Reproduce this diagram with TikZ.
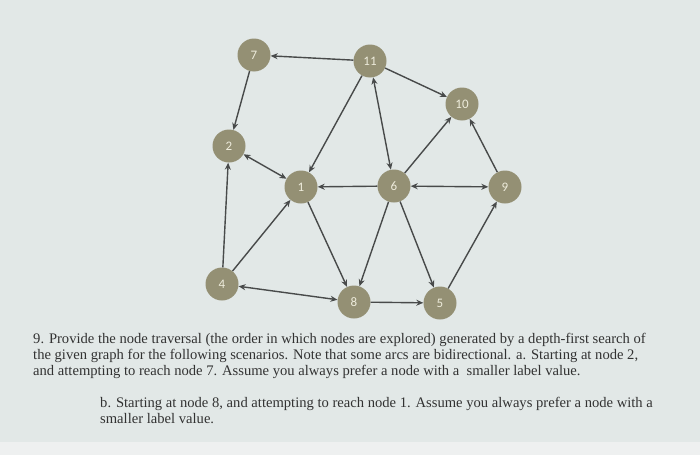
\documentclass[tikz,border=0pt]{standalone}
\usepackage{fontspec}
\setmainfont{Liberation Serif}
\newfontfamily\lblfont{Carlito}
\usetikzlibrary{arrows.meta}
\definecolor{bg}{RGB}{226,232,231}
\definecolor{bgb}{RGB}{238,240,240}
\definecolor{nodefill}{RGB}{148,144,116}
\definecolor{nodetext}{RGB}{238,236,220}
\definecolor{edge}{RGB}{72,74,74}
\definecolor{txt}{RGB}{50,50,50}
\begin{document}
\begin{tikzpicture}[x=1pt,y=-1pt,
  vtx/.style={circle,fill=nodefill,minimum size=33pt,inner sep=0pt,
    font=\fontsize{13}{13}\selectfont\lblfont,text=nodetext},
  arc/.style={draw=edge,line width=1.4pt,-{Stealth[length=7pt,width=6pt]}},
  biarc/.style={draw=edge,line width=1.4pt,{Stealth[length=7pt,width=6pt]}-{Stealth[length=7pt,width=6pt]}},
  para/.style={anchor=base west,inner sep=0pt,text=txt,font=\fontsize{14.6}{16}\selectfont}]
\fill[bg] (0,0) rectangle (700,455);
\fill[bgb] (0,442) rectangle (700,455);
\useasboundingbox (0,0) rectangle (700,455);
% nodes
\node[vtx] (n7) at (254,55) {7};
\node[vtx] (n11) at (370,61) {11};
\node[vtx] (n10) at (462,104) {10};
\node[vtx] (n2) at (229,146) {2};
\node[vtx] (n1) at (301,187) {1};
\node[vtx] (n6) at (394,186) {6};
\node[vtx] (n9) at (505,187) {9};
\node[vtx] (n4) at (222,284) {4};
\node[vtx] (n8) at (354,302) {8};
\node[vtx] (n5) at (440,303) {5};
% edges
\draw[arc] (n11) -- (n7);
\draw[arc] (n7) -- (n2);
\draw[arc] (n11) -- (n10);
\draw[arc] (n11) -- (n1);
\draw[biarc] (n11) -- (n6);
\draw[biarc] (n2) -- (n1);
\draw[arc] (n4) -- (n2);
\draw[arc] (n4) -- (n1);
\draw[arc] (n6) -- (n1);
\draw[arc] (n6) -- (n10);
\draw[biarc] (n6) -- (n9);
\draw[arc] (n9) -- (n10);
\draw[arc] (n1) -- (n8);
\draw[arc] (n6) -- (n8);
\draw[arc] (n6) -- (n5);
\draw[arc] (n5) -- (n9);
\draw[biarc] (n4) -- (n8);
\draw[arc] (n8) -- (n5);
% text
\node[para] (t1) at (33,343) {9. Provide the node traversal (the order in which nodes are explored) generated by a depth-first search of};
\node[para] (t2) at (33,359) {the given graph for the following scenarios. Note that some arcs are bidirectional. a. Starting at node 2,};
\node[para] (t3) at (33,375) {and attempting to reach node 7. Assume you always prefer a node with a\ \ smaller label value.};
\node[para] (t4) at (100,407) {b. Starting at node 8, and attempting to reach node 1. Assume you always prefer a node with a};
\node[para] (t5) at (100,423) {smaller label value.};
\end{tikzpicture}
\end{document}
